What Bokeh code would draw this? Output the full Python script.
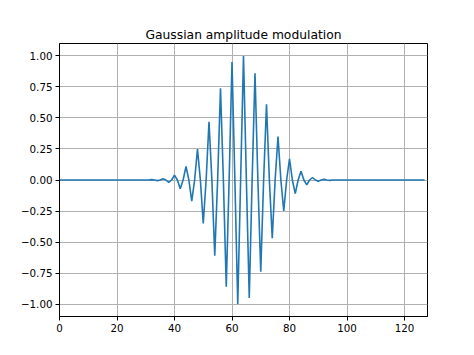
from bokeh.plotting import figure
from bokeh.models import FixedTicker, Range1d
from bokeh.embed import file_html
from bokeh.resources import INLINE

# Sample index and Gaussian-modulated signal
n = list(range(128))
signal = [
    0, 0, 0, 0, 0, 0, 0, 0, 0, 0, 0, 0, 0, 0, 0, 0,
    0, 0, 0, 0, 0, 0, 0, 0, 0, 0, 0, 0, 0, 0, 0, 0,
    0.003, 0, -0.005, 0, 0.01, 0, -0.02, 0, 0.04, 0, -0.07, 0, 0.11, 0, -0.17, 0,
    0.25, 0, -0.35, 0, 0.47, 0, -0.61, 0, 0.74, 0, -0.86, 0, 0.95, 0, -1.0, 0,
    1.0, 0, -0.95, 0, 0.86, 0, -0.74, 0, 0.61, 0, -0.47, 0, 0.35, 0, -0.25, 0,
    0.17, 0, -0.11, 0, 0.07, 0, -0.04, 0, 0.02, 0, -0.01, 0, 0.005, 0, -0.003, 0,
    0, 0, 0, 0, 0, 0, 0, 0, 0, 0, 0, 0, 0, 0, 0, 0,
    0, 0, 0, 0, 0, 0, 0, 0, 0, 0, 0, 0, 0, 0, 0, 0,
]
x_ticks = [0, 20, 40, 60, 80, 100, 120]
y_ticks = [-1.0, -0.75, -0.5, -0.25, 0.0, 0.25, 0.5, 0.75, 1.0]
y_labels = ["\u22121.00", "\u22120.75", "\u22120.50", "\u22120.25", "0.00", "0.25", "0.50", "0.75", "1.00"]
title = "Gaussian amplitude modulation"

FONT = "DejaVu Sans"

p = figure(width=474, height=355, output_backend="svg", toolbar_location=None,
           x_range=Range1d(0, 128), y_range=Range1d(-1.1, 1.1),
           min_border_left=59, min_border_right=47, min_border_top=43, min_border_bottom=39,
           title=title)
p.title.text_font = FONT
p.title.text_font_size = "12.3px"
p.title.text_font_style = "normal"
p.title.align = "center"
p.title.text_color = "black"
p.title.standoff = 4

p.line(n, signal, line_color="#1f77b4", line_width=1.6)

p.xaxis.ticker = FixedTicker(ticks=x_ticks)
p.yaxis.ticker = FixedTicker(ticks=y_ticks)
p.yaxis.major_label_overrides = {t: l for t, l in zip(y_ticks, y_labels)}
p.xaxis.major_label_overrides = {t: str(t) for t in x_ticks}

for ax in (p.xaxis, p.yaxis):
    ax.axis_line_color = "black"
    ax.axis_line_width = 1
    ax.major_tick_in = 0
    ax.major_tick_out = 4
    ax.major_tick_line_color = "black"
    ax.minor_tick_line_color = None
    ax.major_label_text_font = FONT
    ax.major_label_text_font_size = "10.3px"
    ax.major_label_text_color = "black"
    ax.major_label_standoff = 3

p.grid.grid_line_color = "#b0b0b0"
p.grid.grid_line_width = 1
p.outline_line_color = "black"
p.outline_line_alpha = 1
p.outline_line_width = 1
p.background_fill_color = "white"
p.border_fill_color = "white"

open("out.html", "w").write(file_html(p, INLINE))
